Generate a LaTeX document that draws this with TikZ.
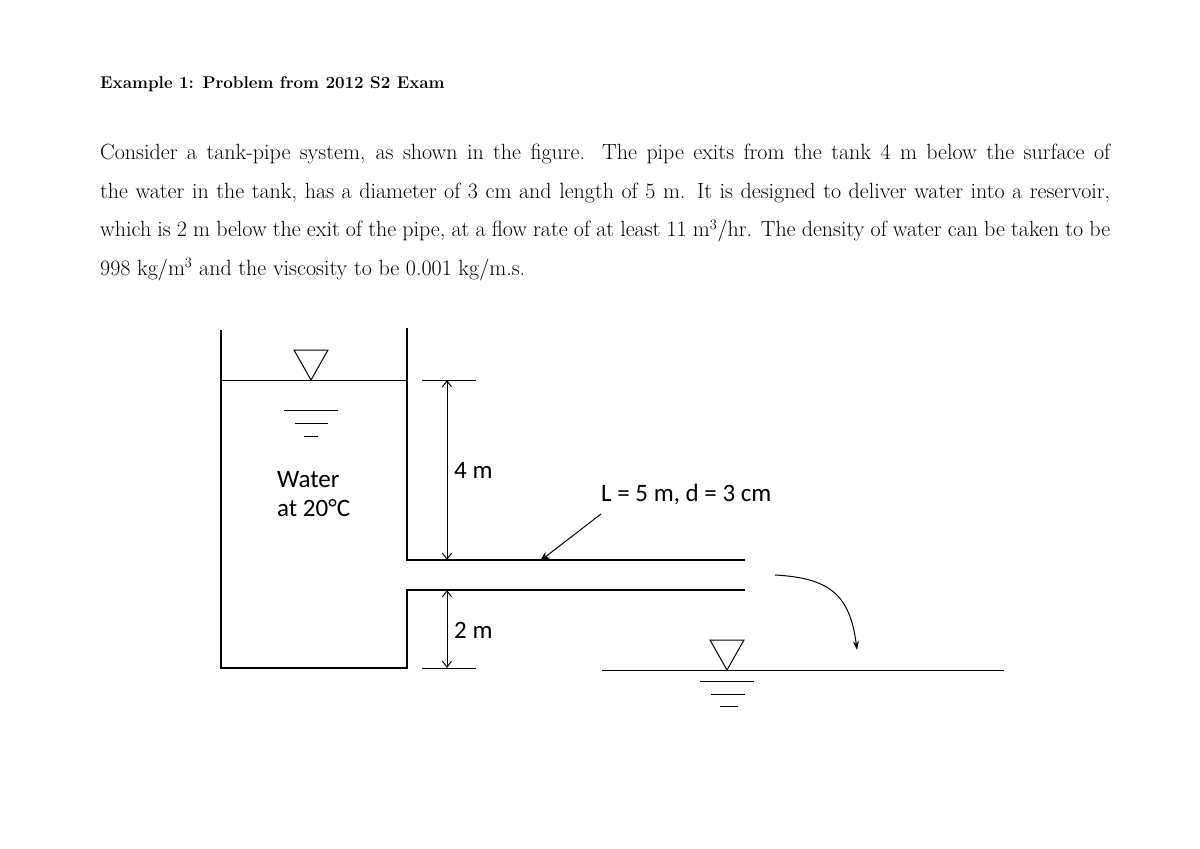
\documentclass[tikz,border=0pt]{standalone}
\usepackage{fontspec}
\newfontfamily\calibri{Carlito}
\usetikzlibrary{arrows.meta}
\begin{document}
\begin{tikzpicture}[x=1pt,y=-1pt,
  ln/.style={line width=1.6pt},
  thin/.style={line width=1pt},
  dim/.style={line width=1pt,{Straight Barb[length=6pt,width=9pt]}-{Straight Barb[length=6pt,width=9pt]}},
  lab/.style={font=\calibri\fontsize{25}{30}\selectfont,inner sep=0pt}]
\useasboundingbox (0,0) rectangle (1200,849);
\node[anchor=base west,inner sep=0pt,font=\fontsize{17}{20}\selectfont\bfseries] (title) at (100,88) {Example 1: Problem from 2012 S2 Exam};
\node[anchor=north west,inner sep=0pt,text width=1010pt,align=justify,font=\fontsize{22}{38.5}\selectfont] (para) at (100,144)
{Consider a tank-pipe system, as shown in the figure. The pipe exits from the tank 4 m below the surface of\linebreak the water in the tank, has a diameter of 3 cm and length of 5 m. It is designed to deliver water into a reservoir,\linebreak which is 2 m below the exit of the pipe, at a flow rate of at least 11 m$^3$/hr. The density of water can be taken to be\linebreak 998 kg/m$^3$ and the viscosity to be 0.001 kg/m.s.};
% tank
\draw[ln] (221,330) -- (221,668) -- (407,668) -- (407,590) -- (745,590);
\draw[ln] (407,328) -- (407,560) -- (745,560);
\draw[thin] (221,380) -- (407,380);
\draw[thin] (294,350) -- (328,350) -- (311,380) -- cycle;
\draw[thin] (284,410) -- (338,410) (295,423) -- (328,423) (304,436) -- (318,436);
% dims
\coordinate (t1) at (447,380); \coordinate (t2) at (447,560);
\coordinate (b1) at (447,590); \coordinate (b2) at (447,668);
\draw[thin] (422,380) -- (476,380) (422,668) -- (476,668);
\draw[dim] (t1) -- (t2);
\draw[dim] (b1) -- (b2);
\node[lab,anchor=west] (h4) at (454,470) {4 m};
\node[lab,anchor=west] (h2) at (454,630) {2 m};
\node[lab,anchor=north west,align=left] (w) at (277,471) {Water\\[-1pt]at 20°C};
\node[lab,anchor=west] (L) at (601,494) {L = 5 m, d = 3 cm};
\coordinate (la) at (601,514); \coordinate (lb) at (540,561);
\draw[thin,-{Stealth[length=10pt,width=8pt]}] (la) -- (lb);
\coordinate (c1) at (775,575); \coordinate (c2) at (857,650);
\draw[thin,-{Stealth[length=9pt,width=6pt]}] (c1) .. controls (830,578) and (850,595) .. (c2);
% reservoir
\draw[thin] (602,670) -- (1004,670);
\draw[thin] (710,640) -- (744,640) -- (727,670) -- cycle;
\draw[thin] (700,681) -- (754,681) (711,694) -- (745,694) (720,706) -- (738,706);
\end{tikzpicture}
\end{document}
